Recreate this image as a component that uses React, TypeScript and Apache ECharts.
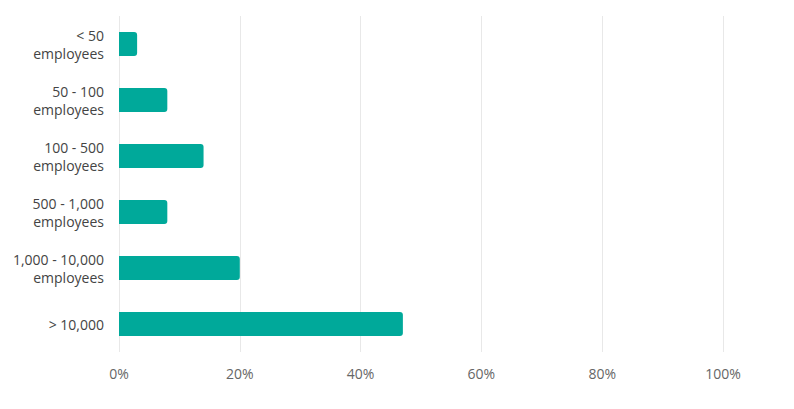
import React, { useEffect, useRef } from 'react';
import * as echarts from 'echarts';

const categories = [
  '< 50\nemployees',
  '50 - 100\nemployees',
  '100 - 500\nemployees',
  '500 - 1,000\nemployees',
  '1,000 - 10,000\nemployees',
  '> 10,000',
];
const shares = [3, 8, 14, 8, 20, 47];
const xTicks = [0, 20, 40, 60, 80, 100];

const App: React.FC = () => {
  const chartRef = useRef<HTMLDivElement>(null);

  useEffect(() => {
    document.body.style.margin = '0';
    if (!chartRef.current) return;
    const chart = echarts.init(chartRef.current, undefined, { renderer: 'svg' });

    const option: echarts.EChartsOption = {
      animation: false,
      grid: { left: 119, right: 71, top: 16, bottom: 57, containLabel: false },
      xAxis: {
        type: 'value',
        min: xTicks[0],
        max: xTicks[xTicks.length - 1],
        interval: 20,
        axisLine: { show: false },
        axisTick: { show: false },
        splitLine: { lineStyle: { color: '#e8e8e8', width: 1 } },
        axisLabel: {
          formatter: '{value}%',
          color: '#666666',
          fontFamily: 'Open Sans',
          fontSize: 14,
          margin: 14,
        },
      },
      yAxis: {
        type: 'category',
        data: categories,
        inverse: true,
        axisLine: { show: false },
        axisTick: { show: false },
        splitLine: { show: false },
        axisLabel: {
          color: '#444444',
          fontFamily: 'Open Sans',
          fontSize: 14,
          lineHeight: 18,
          margin: 15,
          align: 'right',
        },
      },
      series: [
        {
          type: 'bar',
          data: shares,
          barWidth: 24,
          itemStyle: { color: '#00a99a', borderRadius: [0, 3, 3, 0] },
        },
      ],
    };

    chart.setOption(option);
    return () => chart.dispose();
  }, []);

  return <div ref={chartRef} style={{ width: 794, height: 409 }} />;
};

export default App;
